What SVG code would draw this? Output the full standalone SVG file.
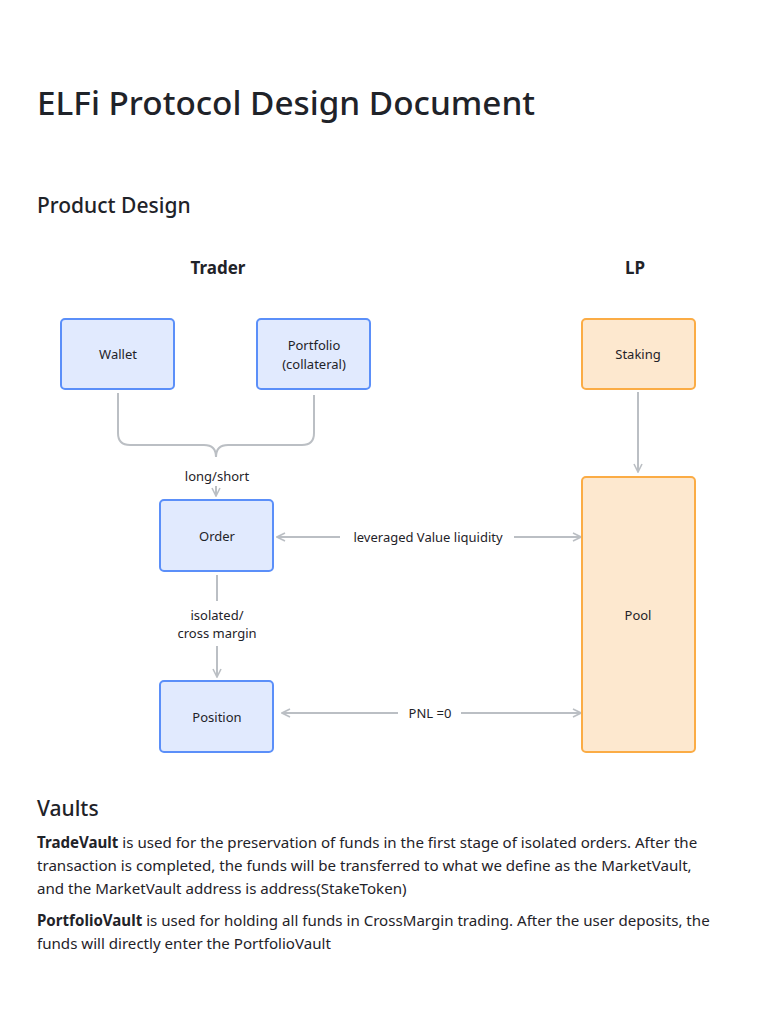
<svg xmlns="http://www.w3.org/2000/svg" width="768" height="1024" viewBox="0 0 768 1024">
<style>
text{font-family:"Noto Sans","Open Sans",sans-serif;fill:#1f2329}
.b{fill:#e1eafe;stroke:#5b8ff9;stroke-width:2}
.o{fill:#fde8cf;stroke:#fbac45;stroke-width:2}
.n{font-size:13px;text-anchor:middle}
.c{fill:none;stroke:#bbbfc4;stroke-width:2}
.l{font-size:13px;text-anchor:middle}
.p{font-size:15.1px}
</style>
<defs><marker id="a" viewBox="0 0 10 10" refX="9" refY="5" markerWidth="10" markerHeight="10" markerUnits="userSpaceOnUse" orient="auto-start-reverse"><path d="M1,1 L9,5 L1,9" fill="none" stroke="#bbbfc4" stroke-width="1.6"/></marker></defs>
<rect width="768" height="1024" fill="#fff"/>
<text x="37" y="115" font-size="33.3" font-weight="500">ELFi Protocol Design Document</text>
<text x="37" y="213" font-size="21" font-weight="500">Product Design</text>
<text x="218" y="274" font-size="17" font-weight="bold" text-anchor="middle">Trader</text>
<text x="635" y="274" font-size="17" font-weight="bold" text-anchor="middle">LP</text>
<g id="connectors">
<path class="c" d="M118,393 V433 Q118,445 130,445 H204 Q216,445 216,457 M314,395 V433 Q314,445 302,445 H228 Q216,445 216,457"/>
<path class="c" d="M216,486 V496" marker-end="url(#a)"/>
<text class="l" x="217" y="481">long/short</text>
<path class="c" d="M217,575 V601"/>
<path class="c" d="M217,646 V677" marker-end="url(#a)"/>
<text class="l" x="217" y="620">isolated/</text>
<text class="l" x="217" y="638">cross margin</text>
<path class="c" d="M340,537 H277" marker-end="url(#a)"/>
<path class="c" d="M514,537 H581" marker-end="url(#a)"/>
<text class="l" x="428" y="542">leveraged Value liquidity</text>
<path class="c" d="M398,713 H282" marker-end="url(#a)"/>
<path class="c" d="M461,713 H581" marker-end="url(#a)"/>
<text class="l" x="430" y="718">PNL =0</text>
<path class="c" d="M638,392 V472" marker-end="url(#a)"/>
</g>
<g id="wallet"><rect class="b" x="61" y="319" width="113" height="70" rx="4"/><text class="n" x="118" y="359">Wallet</text></g>
<g id="portfolio"><rect class="b" x="257" y="319" width="113" height="70" rx="4"/><text class="n" x="314" y="350">Portfolio</text><text class="n" x="314" y="369">(collateral)</text></g>
<g id="staking"><rect class="o" x="582" y="319" width="113" height="70" rx="4"/><text class="n" x="638" y="359">Staking</text></g>
<g id="order"><rect class="b" x="160" y="500" width="113" height="71" rx="4"/><text class="n" x="217" y="541">Order</text></g>
<g id="position"><rect class="b" x="160" y="681" width="113" height="71" rx="4"/><text class="n" x="217" y="722">Position</text></g>
<g id="pool"><rect class="o" x="582" y="477" width="113" height="275" rx="4"/><text class="n" x="638" y="620">Pool</text></g>
<text x="37" y="816" font-size="21" font-weight="500">Vaults</text>
<text class="p" x="37" y="848"><tspan font-weight="bold">TradeVault</tspan> is used for the preservation of funds in the first stage of isolated orders. After the</text>
<text class="p" x="37" y="871">transaction is completed, the funds will be transferred to what we define as the MarketVault,</text>
<text class="p" x="37" y="894">and the MarketVault address is address(StakeToken)</text>
<text class="p" x="37" y="926"><tspan font-weight="bold">PortfolioVault</tspan> is used for holding all funds in CrossMargin trading. After the user deposits, the</text>
<text class="p" x="37" y="949">funds will directly enter the PortfolioVault</text>
</svg>
